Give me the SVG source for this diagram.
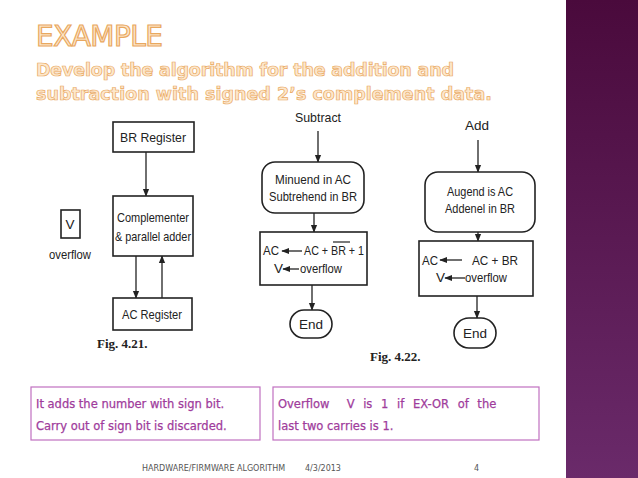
<svg xmlns="http://www.w3.org/2000/svg" width="638" height="478" viewBox="0 0 638 478">
<defs>
<linearGradient id="bar" x1="0" y1="0" x2="0" y2="1"><stop offset="0" stop-color="#4a0a3c"/><stop offset="1" stop-color="#6a2a6a"/></linearGradient>
<marker id="ah" viewBox="0 0 10 10" refX="9" refY="5" markerWidth="6" markerHeight="6" orient="auto"><path d="M0,1 L10,5 L0,9 Z" fill="#222"/></marker>
</defs>
<style>
.b{fill:#fff;stroke:#222;stroke-width:1.6}
.t{font-family:"Liberation Sans",sans-serif;font-size:13.5px;fill:#222}
.c{stroke:#222;stroke-width:1.3;fill:none;marker-end:url(#ah)}
.l{stroke:#222;stroke-width:1.2}
.fig{font-family:"Liberation Serif",serif;font-weight:bold;font-size:13px;fill:#222}
.p{fill:#fff;stroke:#c070c0;stroke-width:1.2}
.pt{font-family:"DejaVu Sans",sans-serif;font-size:11.5px;fill:#a03c9c;stroke:#a03c9c;stroke-width:0.25}
.f{font-family:"DejaVu Sans",sans-serif;font-size:8px;fill:#555}
</style>
<rect width="638" height="478" fill="#fff"/>
<rect x="566" y="0" width="72" height="478" fill="url(#bar)"/>
<text x="36" y="46" font-family="'DejaVu Sans',sans-serif" font-size="28" fill="#fde7cc" stroke="#e9a860" stroke-width="1.2" textLength="127">EXAMPLE</text>
<text x="36" y="76" font-family="'DejaVu Sans',sans-serif" font-weight="bold" font-size="17.5" fill="#fde7cc" stroke="#e9a860" stroke-width="0.7" textLength="418">Develop the algorithm for the addition and</text>
<text x="36" y="100" font-family="'DejaVu Sans',sans-serif" font-weight="bold" font-size="17.5" fill="#fde7cc" stroke="#e9a860" stroke-width="0.7" textLength="456">subtraction with signed 2’s complement data.</text>
<g id="connectors">
<line class="c" x1="146" y1="152" x2="146" y2="196"/>
<line class="c" x1="136" y1="256" x2="136" y2="298"/>
<line class="c" x1="162" y1="298" x2="162" y2="256"/>
<line class="c" x1="318" y1="131" x2="318" y2="162"/>
<line class="c" x1="314" y1="213" x2="314" y2="232"/>
<line class="c" x1="312" y1="285" x2="312" y2="310"/>
<line class="c" x1="478" y1="140" x2="478" y2="172"/>
<line class="c" x1="478" y1="232" x2="478" y2="241"/>
<line class="c" x1="477" y1="296" x2="477" y2="318"/>
</g>
<g id="br"><rect class="b" x="113" y="122" width="81" height="30"/><text class="t" x="153" y="142" text-anchor="middle" textLength="66" lengthAdjust="spacingAndGlyphs">BR Register</text></g>
<g id="comp"><rect class="b" x="113" y="196" width="80" height="60"/><text class="t" x="153" y="222" text-anchor="middle" textLength="72" lengthAdjust="spacingAndGlyphs">Complementer</text><text class="t" x="153" y="241" text-anchor="middle" textLength="76" lengthAdjust="spacingAndGlyphs">&amp; parallel adder</text></g>
<g id="acreg"><rect class="b" x="113" y="298" width="79" height="32"/><text class="t" x="152" y="319" text-anchor="middle" textLength="60" lengthAdjust="spacingAndGlyphs">AC Register</text></g>
<g id="v"><rect class="b" x="61" y="210" width="19" height="28"/><text class="t" x="70" y="229" text-anchor="middle">V</text><text class="t" x="70" y="259" text-anchor="middle" textLength="42" lengthAdjust="spacingAndGlyphs">overflow</text></g>
<text class="fig" x="97" y="348">Fig. 4.21.</text>
<g id="sub"><text class="t" x="318" y="122" text-anchor="middle" textLength="46" lengthAdjust="spacingAndGlyphs">Subtract</text></g>
<g id="minuend"><rect class="b" x="262" y="162" width="102" height="51" rx="13"/><text class="t" x="313" y="184" text-anchor="middle" textLength="76" lengthAdjust="spacingAndGlyphs">Minuend in AC</text><text class="t" x="313" y="201" text-anchor="middle" textLength="88" lengthAdjust="spacingAndGlyphs">Subtrehend in BR</text></g>
<g id="subop"><rect class="b" x="260" y="232" width="107" height="53"/>
<text class="t" x="263" y="255" textLength="16" lengthAdjust="spacingAndGlyphs">AC</text><line class="c" x1="302" y1="251" x2="282" y2="251"/><text class="t" x="304" y="255" textLength="60" lengthAdjust="spacingAndGlyphs">AC + BR + 1</text><line class="l" x1="333" y1="242" x2="350" y2="242"/>
<text class="t" x="274" y="273">V</text><line class="c" x1="299" y1="269" x2="283" y2="269"/><text class="t" x="300" y="273" textLength="42" lengthAdjust="spacingAndGlyphs">overflow</text></g>
<g id="end1"><rect class="b" x="290" y="310" width="42" height="28" rx="14"/><text class="t" x="311" y="329" text-anchor="middle">End</text></g>
<g id="add"><text class="t" x="477" y="130" text-anchor="middle">Add</text></g>
<g id="augend"><rect class="b" x="425" y="172" width="110" height="60" rx="13"/><text class="t" x="480" y="196" text-anchor="middle" textLength="66" lengthAdjust="spacingAndGlyphs">Augend is AC</text><text class="t" x="480" y="213" text-anchor="middle" textLength="70" lengthAdjust="spacingAndGlyphs">Addenel in BR</text></g>
<g id="addop"><rect class="b" x="419" y="241" width="114" height="55"/>
<text class="t" x="422" y="265" textLength="16" lengthAdjust="spacingAndGlyphs">AC</text><line class="c" x1="462" y1="260" x2="440" y2="260"/><text class="t" x="472" y="265" textLength="46" lengthAdjust="spacingAndGlyphs">AC + BR</text>
<text class="t" x="436" y="282">V</text><line class="c" x1="465" y1="278" x2="445" y2="278"/><text class="t" x="465" y="282" textLength="42" lengthAdjust="spacingAndGlyphs">overflow</text></g>
<g id="end2"><rect class="b" x="454" y="318" width="42" height="30" rx="15"/><text class="t" x="475" y="338" text-anchor="middle">End</text></g>
<text class="fig" x="370" y="361">Fig. 4.22.</text>
<g id="note1"><rect class="p" x="31" y="387" width="229" height="53"/><text class="pt" x="36" y="408">It adds the number with sign bit.</text><text class="pt" x="36" y="430">Carry out of sign bit is discarded.</text></g>
<g id="note2"><rect class="p" x="273" y="387" width="266" height="53"/><text class="pt" x="278" y="408" word-spacing="5" xml:space="preserve">Overflow  V is 1 if EX-OR of the</text><text class="pt" x="278" y="430">last two carries is 1.</text></g>
<text class="f" x="142" y="471">HARDWARE/FIRMWARE ALGORITHM</text>
<text class="f" x="305" y="471">4/3/2013</text>
<text class="f" x="474" y="471">4</text>
</svg>
